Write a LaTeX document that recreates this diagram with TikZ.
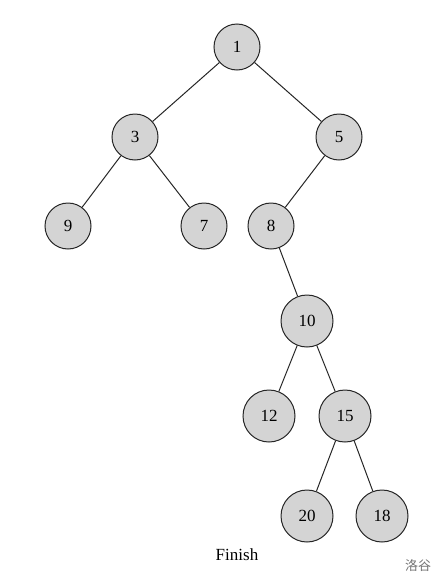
\documentclass[tikz,border=0pt]{standalone}
\usepackage{fontspec}
\setmainfont{Liberation Serif}
\newfontfamily\cjk{Noto Sans CJK SC}
\usetikzlibrary{positioning}

\begin{document}
\begin{tikzpicture}[x=1pt,y=-1pt,
                thick,
                vtx/.style={circle,draw=black!85,fill=black!17,line width=1pt,
                    minimum size=46pt,inner sep=0pt,
                    font=\fontsize{17}{20}\selectfont},
                bigvtx/.style={vtx,minimum size=52pt},
                edge/.style={draw=black!85,line width=1pt}]
                \useasboundingbox (0,0) rectangle (445,584);
                \node[vtx](n1) at (237,47) {1};
                \node[vtx](n3) at (135,137) {3};
                \node[vtx](n5) at (339,137) {5};
                \node[vtx](n9) at (68,226) {9};
                \node[vtx](n7) at (204,226) {7};
                \node[vtx](n8) at (271,226) {8};
                \node[bigvtx](n10) at (307,321) {10};
                \node[bigvtx](n12) at (269,416) {12};
                \node[bigvtx](n15) at (345,416) {15};
                \node[bigvtx](n20) at (307,516) {20};
                \node[bigvtx](n18) at (382,516) {18};
                % edges
                \foreach \a/\b in {n1/n3,n1/n5,n3/n9,n3/n7,n5/n8,n8/n10,
                    n10/n12,n10/n15,n15/n20,n15/n18}
                    \draw[edge] (\a) -- (\b);
                \node[font=\fontsize{17}{20}\selectfont](finish) at (237,555) {Finish};
                \node[font=\cjk\fontsize{13}{15}\selectfont,text=black!55](mark) at (418,566) {洛谷};
            \end{tikzpicture}
\end{document}
